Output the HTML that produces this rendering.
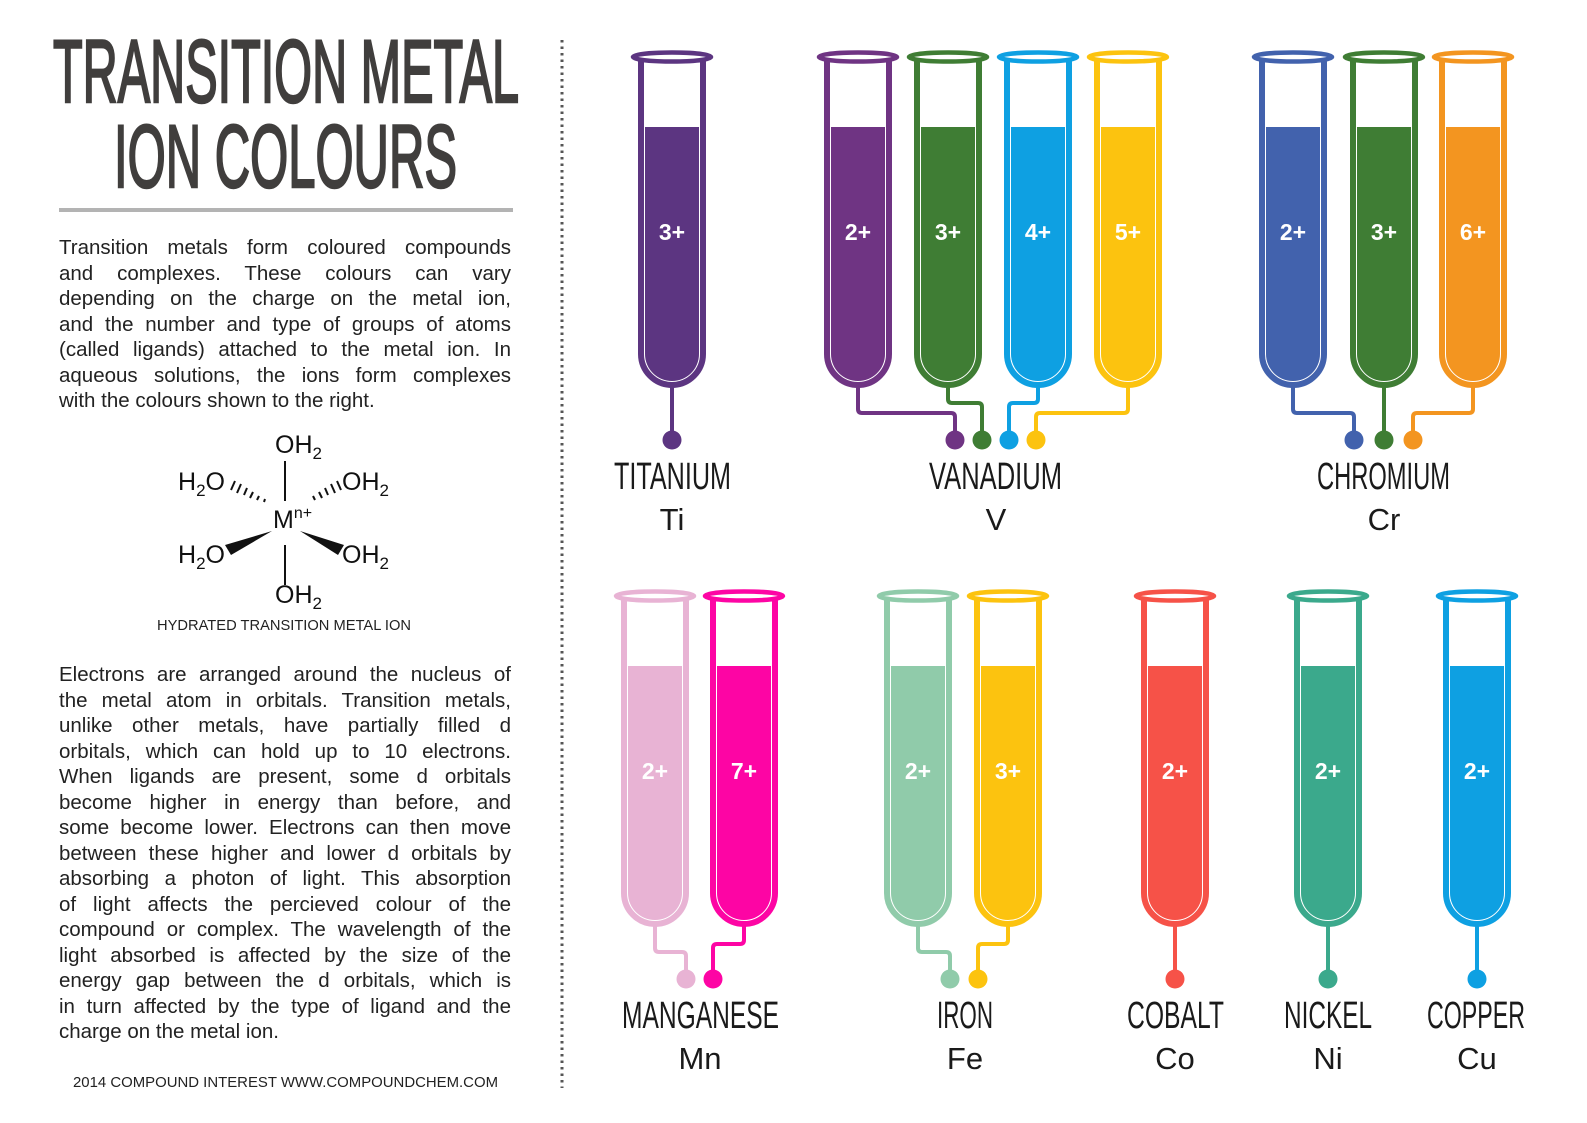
<!DOCTYPE html>
<html><head><meta charset="utf-8">
<style>
html,body{margin:0;padding:0;background:#fff;}
body{width:1587px;height:1123px;position:relative;overflow:hidden;font-family:"Liberation Sans",sans-serif;}
.p{position:absolute;left:59px;width:452px;font-size:20.5px;line-height:25.5px;color:#222;}
.p div{text-align:justify;text-align-last:justify;white-space:nowrap;}
.p div.l{text-align-last:left;}
svg{position:absolute;left:0;top:0;}
</style></head><body>
<svg id="s" width="1587" height="1123" xmlns="http://www.w3.org/2000/svg">
<text x="53" y="102" font-family="Liberation Sans" font-size="89" fill="#403e3d" stroke="#403e3d" stroke-width="2.5" textLength="466" lengthAdjust="spacingAndGlyphs">TRANSITION METAL</text>
<text x="114" y="187" font-family="Liberation Sans" font-size="89" fill="#403e3d" stroke="#403e3d" stroke-width="2.5" textLength="343" lengthAdjust="spacingAndGlyphs">ION COLOURS</text>
<rect x="59" y="208" width="454" height="4" fill="#b3b3b3"/>
<line x1="562" y1="40" x2="562" y2="1088" stroke="#555" stroke-width="3" stroke-dasharray="2.5 4"/>
<g font-family="Liberation Sans" font-size="25" fill="#111">
<text x="275" y="453">OH<tspan font-size="17" dy="6">2</tspan></text>
<text x="275" y="603">OH<tspan font-size="17" dy="6">2</tspan></text>
<text x="178" y="490">H<tspan font-size="17" dy="6">2</tspan><tspan dy="-6">O</tspan></text>
<text x="178" y="563">H<tspan font-size="17" dy="6">2</tspan><tspan dy="-6">O</tspan></text>
<text x="342" y="490">OH<tspan font-size="17" dy="6">2</tspan></text>
<text x="342" y="563">OH<tspan font-size="17" dy="6">2</tspan></text>
<text x="273" y="528">M<tspan font-size="16" dy="-10">n+</tspan></text>
</g>
<line x1="285" y1="461" x2="285" y2="501" stroke="#111" stroke-width="2"/>
<line x1="285" y1="545" x2="285" y2="585" stroke="#111" stroke-width="2"/>
<g stroke="#111" stroke-width="2">
<line x1="235" y1="481" x2="231" y2="490"/><line x1="241" y1="484" x2="237" y2="493"/><line x1="247" y1="488" x2="244" y2="495"/><line x1="253" y1="492" x2="250" y2="498"/><line x1="259" y1="496" x2="257" y2="500"/><line x1="265" y1="499" x2="264" y2="502"/>
<line x1="337" y1="481" x2="341" y2="490"/><line x1="331" y1="484" x2="335" y2="493"/><line x1="325" y1="488" x2="328" y2="495"/><line x1="319" y1="492" x2="322" y2="498"/><line x1="313" y1="496" x2="315" y2="500"/>
</g>
<polygon points="272,531 225,545 231,555" fill="#111"/>
<polygon points="300,531 344,545 338,555" fill="#111"/>
<text x="157" y="630" font-family="Liberation Sans" font-size="15" fill="#222" textLength="254" lengthAdjust="spacingAndGlyphs">HYDRATED TRANSITION METAL ION</text>
<text x="73" y="1087" font-family="Liberation Sans" font-size="15" fill="#222" textLength="425" lengthAdjust="spacingAndGlyphs">2014 COMPOUND INTEREST WWW.COMPOUNDCHEM.COM</text>
<g id="tubes"></g>
</svg>
<div class="p" style="top:235px">
<div>Transition metals form coloured compounds</div>
<div>and complexes. These colours can vary</div>
<div>depending on the charge on the metal ion,</div>
<div>and the number and type of groups of atoms</div>
<div>(called ligands) attached to the metal ion. In</div>
<div>aqueous solutions, the ions form complexes</div>
<div class="l">with the colours shown to the right.</div>
</div>
<div class="p" style="top:662px">
<div>Electrons are arranged around the nucleus of</div>
<div>the metal atom in orbitals. Transition metals,</div>
<div>unlike other metals, have partially filled d</div>
<div>orbitals, which can hold up to 10 electrons.</div>
<div>When ligands are present, some d orbitals</div>
<div>become higher in energy than before, and</div>
<div>some become lower. Electrons can then move</div>
<div>between these higher and lower d orbitals by</div>
<div>absorbing a photon of light. This absorption</div>
<div>of light affects the percieved colour of the</div>
<div>compound or complex. The wavelength of the</div>
<div>light absorbed is affected by the size of the</div>
<div>energy gap between the d orbitals, which is</div>
<div>in turn affected by the type of ligand and the</div>
<div class="l">charge on the metal ion.</div>
</div>
<script>
var g=document.getElementById('tubes'),h='';
var T=[[672,0,'#5c3581','3+',672,0],
[858,0,'#6f3483','2+',955,413],[948,0,'#3f7d34','3+',982,403],[1038,0,'#0ea0e2','4+',1009,403],[1128,0,'#fcc30f','5+',1036,413],
[1293,0,'#4262ad','2+',1354,413],[1384,0,'#3f7d34','3+',1384,0],[1473,0,'#f39520','6+',1413,413],
[655,1,'#e8b3d4','2+',686,413],[744,1,'#fd05a4','7+',713,405],
[918,1,'#90cbaa','2+',950,413],[1008,1,'#fcc30f','3+',978,405],
[1175,1,'#f65248','2+',1175,0],[1328,1,'#3ba98c','2+',1328,0],[1477,1,'#0ea0e2','2+',1477,0]];
T.forEach(function(t){
 var cx=t[0],o=t[1]*539,c=t[2],rim=57+o,lt=127+o,ac=354+o,db=385+o,dy=440+o;
 h+='<path d="M'+(cx-27)+' '+lt+'H'+(cx+27)+'V'+ac+'A27 27 0 0 1 '+(cx-27)+' '+ac+'Z" fill="'+c+'"/>';
 h+='<path d="M'+(cx-31)+' '+(rim+3)+'V'+ac+'A31 31 0 0 0 '+(cx+31)+' '+ac+'V'+(rim+3)+'" fill="none" stroke="'+c+'" stroke-width="6"/>';
 h+='<ellipse cx="'+cx+'" cy="'+rim+'" rx="39" ry="4.5" fill="#fff" stroke="'+c+'" stroke-width="4.5"/>';
 h+='<text x="'+cx+'" y="'+(240+o)+'" text-anchor="middle" font-family="Liberation Sans" font-weight="bold" font-size="23" fill="#fff">'+t[3]+'</text>';
 var dx=t[4];
 if(dx==cx){h+='<line x1="'+cx+'" y1="'+db+'" x2="'+cx+'" y2="'+dy+'" stroke="'+c+'" stroke-width="4"/>';}
 else{var by=t[5]+o;h+='<path d="M'+cx+' '+db+'V'+(by-4)+'Q'+cx+' '+by+' '+(cx+(dx>cx?4:-4))+' '+by+'H'+(dx+(dx>cx?-4:4))+'Q'+dx+' '+by+' '+dx+' '+(by+4)+'V'+dy+'" fill="none" stroke="'+c+'" stroke-width="4"/>';}
 h+='<circle cx="'+dx+'" cy="'+dy+'" r="9.5" fill="'+c+'"/>';
});
var N=[[614,117,0,'TITANIUM',672,'Ti'],[929,133,0,'VANADIUM',996,'V'],[1317,133,0,'CHROMIUM',1384,'Cr'],
[622,157,1,'MANGANESE',700,'Mn'],[937,56,1,'IRON',965,'Fe'],[1127,97,1,'COBALT',1175,'Co'],[1284,88,1,'NICKEL',1328,'Ni'],[1427,98,1,'COPPER',1477,'Cu']];
N.forEach(function(n){var o=n[2]*539;
 h+='<text x="'+n[0]+'" y="'+(489+o)+'" font-family="Liberation Sans" font-size="38" fill="#1a1a1a" textLength="'+n[1]+'" lengthAdjust="spacingAndGlyphs">'+n[3]+'</text>';
 h+='<text x="'+n[4]+'" y="'+(530+o)+'" text-anchor="middle" font-family="Liberation Sans" font-size="31" fill="#1a1a1a">'+n[5]+'</text>';
});
g.innerHTML=h;
</script>
</body></html>
